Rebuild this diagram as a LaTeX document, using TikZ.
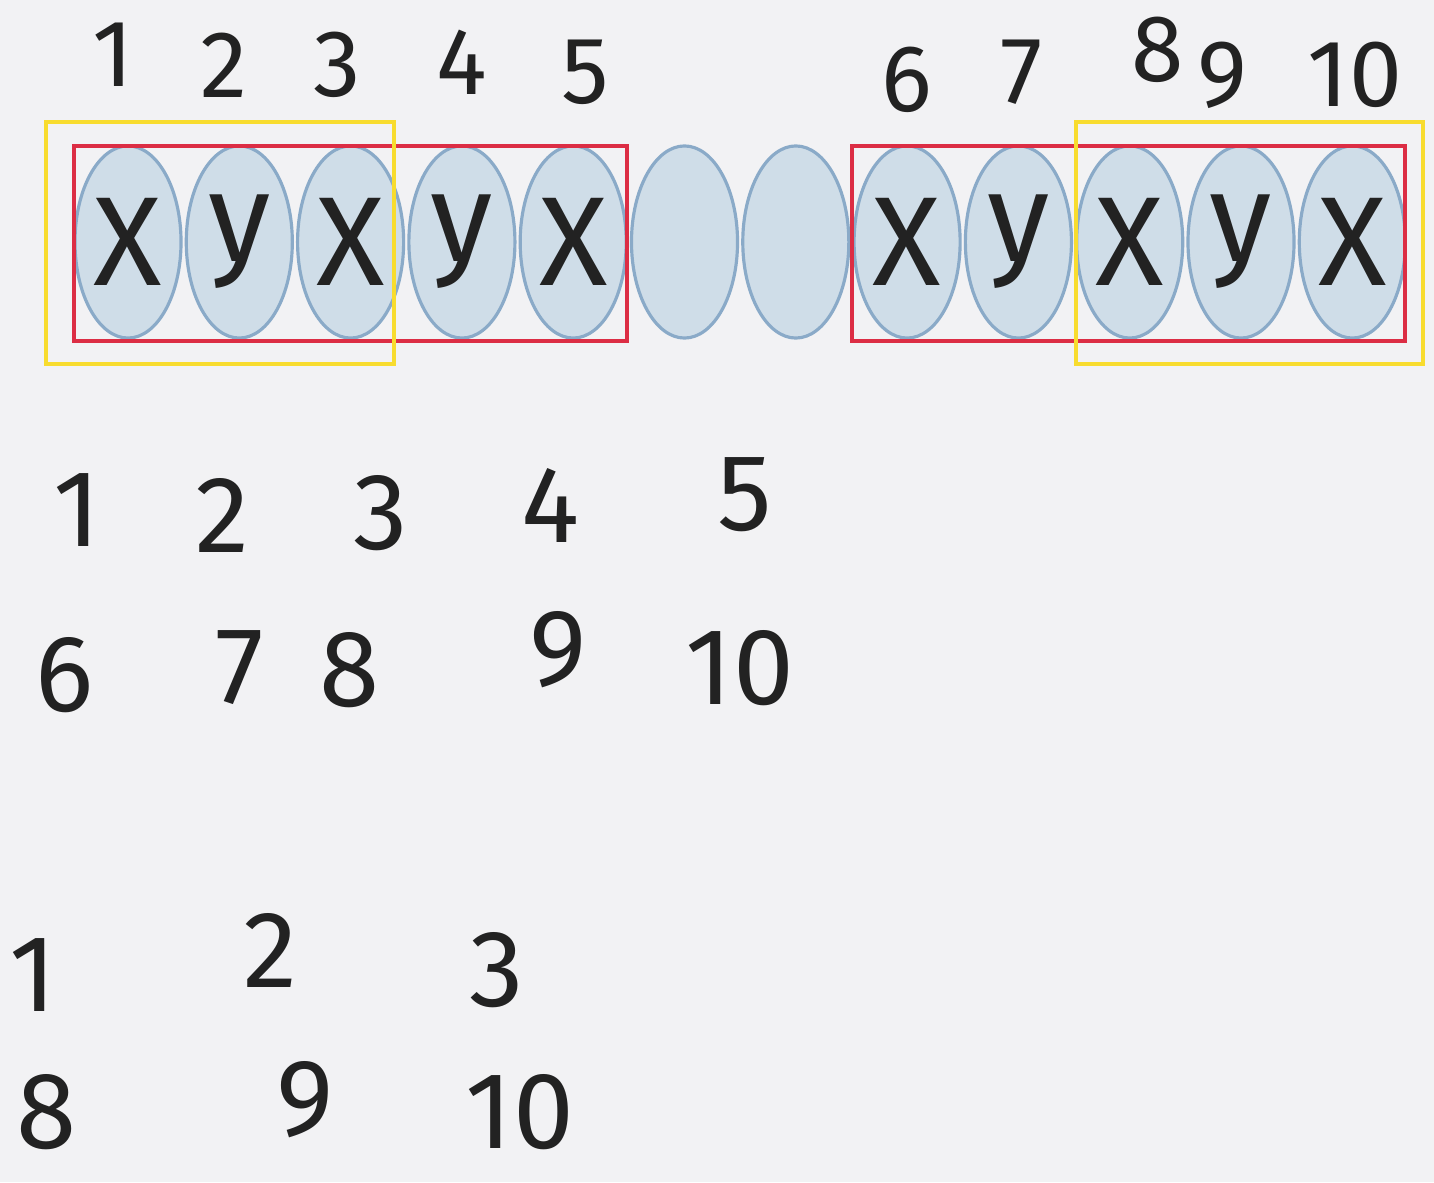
\documentclass[tikz,border=0pt]{standalone}
\usepackage{fontspec}
\setmainfont{Fira Sans}
\usetikzlibrary{shapes.geometric}

\definecolor{bgcol}{HTML}{F2F2F4}
\definecolor{cellfill}{HTML}{CFDDE8}
\definecolor{celldraw}{HTML}{8AAAC8}
\definecolor{redline}{HTML}{DC2D44}
\definecolor{yellowline}{HTML}{F8DC2E}
\definecolor{ink}{HTML}{222222}

\begin{document}
\begin{tikzpicture}[x=0.01cm, y=-0.01cm,
    cell/.style={ellipse, draw=celldraw, fill=cellfill, line width=0.9pt,
      minimum width=1.06cm, minimum height=1.92cm, inner sep=0pt,
      text=ink, font=\fontsize{36}{38}\selectfont},
    toplab/.style={text=ink, inner sep=0pt, font=\fontsize{27}{29}\selectfont},
    lowlab/.style={text=ink, inner sep=0pt, font=\fontsize{31}{33}\selectfont},
    redbox/.style={draw=redline, line width=0.9pt},
    yellowbox/.style={draw=yellowline, line width=1.1pt}]
    \fill[bgcol] (0,0) rectangle (1434,1182);
    \useasboundingbox (0,0) rectangle (1434,1182);

    % row of cells
    \foreach \ll [count = \xi] in {X,y,X,y,X,{},{},X,y,X,y,X}{
      \pgfmathsetmacro{\cx}{128+111.3*(\xi-1)}
      \node[cell] (c\xi) at (\cx,242) {\ll};
    }

    % windows
    \draw[redbox] (74,146) rectangle (627,341);
    \draw[redbox] (852,146) rectangle (1405,341);
    \draw[yellowbox] (46,122) rectangle (394,364);
    \draw[yellowbox] (1076,122) rectangle (1423,364);

    % indices above the cells
    \foreach \nn/\px/\py in {1/113/55, 2/224/65, 3/337/65, 4/462/62, 5/585/72,
                            6/907/80, 7/1022/72, 8/1158/50, 9/1222/75, 10/1355/75}{
      \node[toplab] (t\nn) at (\px,\py) {\nn};
    }

    % first split
    \foreach \nn/\px/\py in {1/77/510, 2/222/515, 3/381/513, 4/550/505, 5/745/495,
                            6/65/675, 7/240/668, 8/350/670, 9/558/650, 10/740/668}{
      \node[lowlab] (a\nn) at (\px,\py) {\nn};
    }

    % second split
    \foreach \nn/\px/\py in {1/33/975, 2/270/950, 3/497/970,
                            8/47/1112, 9/305/1100, 10/520/1112}{
      \node[lowlab] (b\nn) at (\px,\py) {\nn};
    }

\end{tikzpicture}
\end{document}
